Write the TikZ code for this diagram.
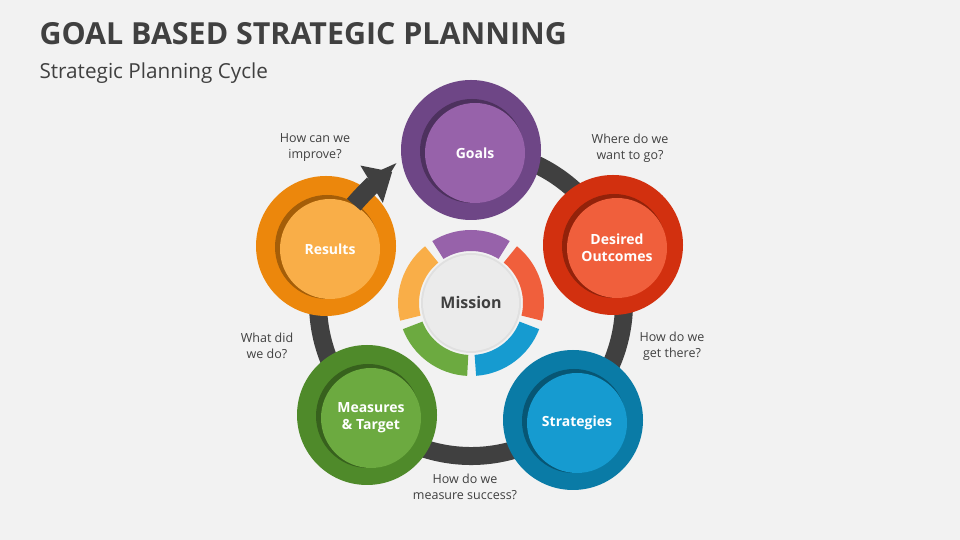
\documentclass[tikz,border=0pt]{standalone}
\usepackage{fontspec}
\setmainfont{Open Sans}
\usetikzlibrary{arrows.meta,calc}
\definecolor{bg}{HTML}{F2F2F2}
\definecolor{ring}{HTML}{404040}
\definecolor{titlegray}{HTML}{404040}
\definecolor{purpleO}{HTML}{6E4686}
\definecolor{purpleI}{HTML}{9762AA}
\definecolor{redO}{HTML}{D2300F}
\definecolor{redI}{HTML}{F05F3C}
\definecolor{blueO}{HTML}{0A7BA6}
\definecolor{blueI}{HTML}{169BD0}
\definecolor{greenO}{HTML}{4F8A2A}
\definecolor{greenI}{HTML}{6CAA40}
\definecolor{orangeO}{HTML}{EC870C}
\definecolor{orangeI}{HTML}{F9AE48}
\tikzset{
  outer/.style={circle, minimum size=140pt, inner sep=0pt},
  inner/.style={circle, minimum size=104pt, inner sep=0pt, text=white,
    font=\fontsize{14}{17}\selectfont\bfseries, align=center},
  question/.style={font=\fontsize{12.5}{16}\selectfont, text=titlegray, align=center}
}
\begin{document}
\begin{tikzpicture}[x=1pt,y=1pt]
  \fill[bg] (0,0) rectangle (960,540);
  \useasboundingbox (0,0) rectangle (960,540);
  % title
  \node[anchor=west, text=titlegray, font=\fontsize{30.4}{34}\selectfont\bfseries] (title) at (36,506) {GOAL BASED STRATEGIC PLANNING};
  \node[anchor=west, text=titlegray, font=\fontsize{20.7}{24}\selectfont] (subtitle) at (36,467) {Strategic Planning Cycle};
  % cycle
  \coordinate (C) at (471,237);
  \draw[ring, line width=18pt] ($(C)+(80:153)$) arc[start angle=440, end angle=150, radius=153];
  \foreach \a/\b/\col in {58/122/purpleI, -14/51/redI, -86/-21/blueI, -159/-93/greenI, 129/194/orangeI}
    \fill[\col] ($(C)+(\a:73)$) arc[start angle=\a, end angle=\b, radius=73] -- ($(C)+(\b:52)$) arc[start angle=\b, end angle=\a, radius=52] -- cycle;
  \node[circle, fill=black!12, minimum size=100pt] (mission) at (C) {};
  \node[circle, fill=black!8, minimum size=96pt, text=titlegray, font=\fontsize{16}{19}\selectfont\bfseries] at (C) {Mission};
  % steps
  \foreach \n/\x/\y/\col/\txt in {goals/471/390/purple/Goals, desired/613/295/red/Desired\\Outcomes,
      strategies/573/120/blue/Strategies, measures/367/125/green/Measures\\\& Target, results/326/294/orange/Results} {
    \node[outer, fill=\col O] (\n) at (\x,\y) {};
    \node[inner, fill=\col O!70!black] at ($(\n)+(1,-1)$) {};
    \node[inner, fill=\col I, minimum size=100pt] (\n-in) at ($(\n)+(4,-3)$) {\txt};
  }
  % arrow into goals
  \draw[ring, line width=18pt, -{Triangle[width=42pt,length=24pt]}] ($(C)+(140:153)$) arc[start angle=140, end angle=121, radius=153];
  % questions
  \node[question] (q1) at (315,392) {How can we\\improve?};
  \node[question] (q2) at (630,392) {Where do we\\want to go?};
  \node[question] (q3) at (672,194) {How do we\\get there?};
  \node[question] (q4) at (465,53) {How do we\\measure success?};
  \node[question] (q5) at (267,194) {What did\\we do?};
\end{tikzpicture}
\end{document}
